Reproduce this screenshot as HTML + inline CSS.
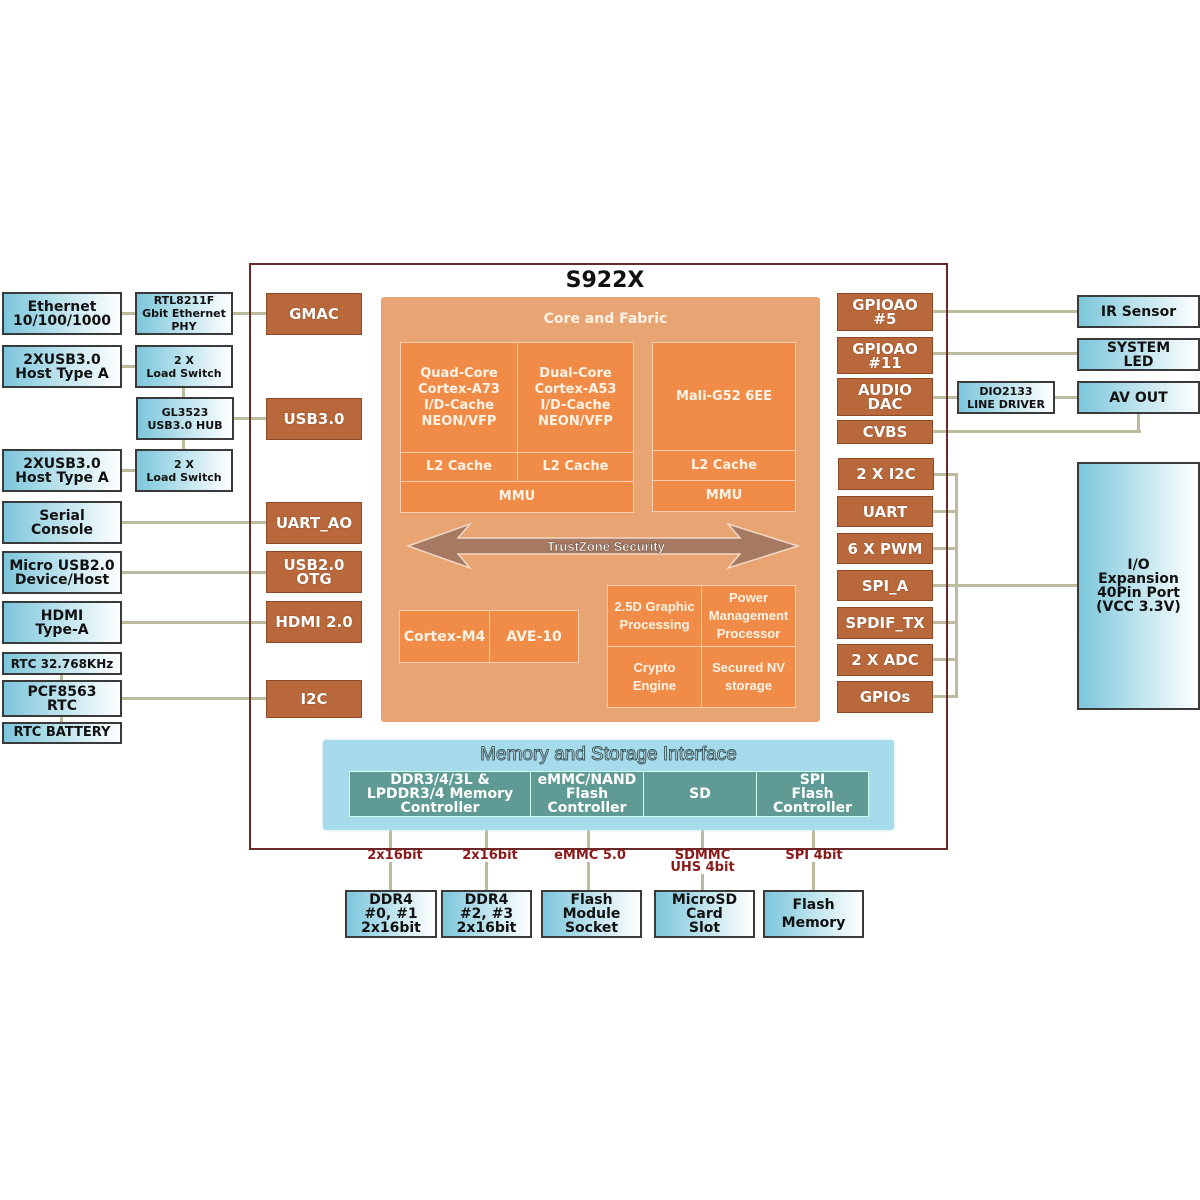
<!DOCTYPE html>
<html><head><meta charset="utf-8"><style>
body{margin:0;width:1200px;height:1200px;background:#fff;position:relative;overflow:hidden;font-family:"DejaVu Sans","Liberation Sans",sans-serif;font-weight:bold}
div{position:absolute;box-sizing:border-box}
.b{background:linear-gradient(90deg,#7cc6db 0%,#c4e6ef 55%,#fff 100%);border:2px solid #3a3a3a;color:#111;display:flex;align-items:center;justify-content:center;text-align:center;font-size:14px;line-height:14px}
.o{background:#b8683a;border:1px solid #8c4a26;color:#fff;display:flex;align-items:center;justify-content:center;text-align:center;font-size:15px;line-height:14px;text-shadow:0 0 1px #5a2a10}
.i{background:#f08c48;border:1.5px solid #f7cfb0;color:#fff3e6;display:flex;align-items:center;justify-content:center;text-align:center;font-size:13px;line-height:16px}
.h{height:3px;background:#bdbb9f}
.v{width:3px;background:#bdbb9f}
.t{background:#5f9a95;border:1px solid #cfe;color:#fff;display:flex;align-items:center;justify-content:center;text-align:center;font-size:14px;line-height:14px}
.l{color:#8b1a1a;font-size:13px;text-align:center;line-height:12px;background:#fff}
</style></head><body>
<!-- connectors left -->
<div class="h" style="left:122px;top:312px;width:144px"></div>
<div class="h" style="left:122px;top:365px;width:14px"></div>
<div class="h" style="left:122px;top:469px;width:14px"></div>
<div class="h" style="left:232px;top:417px;width:34px"></div>
<div class="v" style="left:182px;top:386px;height:64px"></div>
<div class="h" style="left:122px;top:521px;width:144px"></div>
<div class="h" style="left:121px;top:571px;width:145px"></div>
<div class="h" style="left:121px;top:621px;width:145px"></div>
<div class="h" style="left:121px;top:697px;width:145px"></div>
<div class="v" style="left:60px;top:672px;height:52px"></div>
<!-- connectors right -->
<div class="h" style="left:933px;top:310px;width:144px"></div>
<div class="h" style="left:933px;top:352px;width:144px"></div>
<div class="h" style="left:933px;top:396px;width:144px"></div>
<div class="h" style="left:933px;top:430px;width:208px"></div>
<div class="v" style="left:1137px;top:412px;height:21px"></div>
<div class="v" style="left:955px;top:473px;height:225px"></div>
<div class="h" style="left:933px;top:473px;width:25px"></div>
<div class="h" style="left:933px;top:510px;width:25px"></div>
<div class="h" style="left:933px;top:547px;width:25px"></div>
<div class="h" style="left:933px;top:584px;width:144px"></div>
<div class="h" style="left:933px;top:621px;width:25px"></div>
<div class="h" style="left:933px;top:658px;width:25px"></div>
<div class="h" style="left:933px;top:695px;width:25px"></div>
<!-- bottom connectors -->
<div class="v" style="left:389px;top:816px;height:75px"></div>
<div class="v" style="left:485px;top:816px;height:75px"></div>
<div class="v" style="left:587px;top:816px;height:75px"></div>
<div class="v" style="left:701px;top:816px;height:75px"></div>
<div class="v" style="left:812px;top:816px;height:75px"></div>

<!-- chip -->
<div style="left:249px;top:263px;width:699px;height:587px;border:2px solid #6b2a2a"></div>
<div style="left:505px;top:268px;width:200px;text-align:center;font-size:22px;color:#111">S922X</div>

<!-- left blue -->
<div class="b" style="left:2px;top:292px;width:120px;height:43px">Ethernet<br>10/100/1000</div>
<div class="b" style="left:135px;top:292px;width:98px;height:43px;font-size:11px;line-height:13px">RTL8211F<br>Gbit Ethernet<br>PHY</div>
<div class="b" style="left:2px;top:345px;width:120px;height:43px">2XUSB3.0<br>Host Type A</div>
<div class="b" style="left:135px;top:345px;width:98px;height:43px;font-size:11px;line-height:13px">2 X<br>Load Switch</div>
<div class="b" style="left:136px;top:397px;width:98px;height:43px;font-size:11px;line-height:13px">GL3523<br>USB3.0 HUB</div>
<div class="b" style="left:2px;top:449px;width:120px;height:43px">2XUSB3.0<br>Host Type A</div>
<div class="b" style="left:135px;top:449px;width:98px;height:43px;font-size:11px;line-height:13px">2 X<br>Load Switch</div>
<div class="b" style="left:2px;top:501px;width:120px;height:43px">Serial<br>Console</div>
<div class="b" style="left:2px;top:551px;width:120px;height:43px">Micro USB2.0<br>Device/Host</div>
<div class="b" style="left:2px;top:601px;width:120px;height:43px">HDMI<br>Type-A</div>
<div class="b" style="left:2px;top:652px;width:120px;height:23px;font-size:12px">RTC 32.768KHz</div>
<div class="b" style="left:2px;top:680px;width:120px;height:37px">PCF8563<br>RTC</div>
<div class="b" style="left:2px;top:722px;width:120px;height:22px;font-size:13px">RTC BATTERY</div>

<!-- left orange -->
<div class="o" style="left:266px;top:293px;width:96px;height:42px">GMAC</div>
<div class="o" style="left:266px;top:398px;width:96px;height:42px">USB3.0</div>
<div class="o" style="left:266px;top:502px;width:96px;height:42px">UART_AO</div>
<div class="o" style="left:266px;top:551px;width:96px;height:42px">USB2.0<br>OTG</div>
<div class="o" style="left:266px;top:601px;width:96px;height:42px">HDMI 2.0</div>
<div class="o" style="left:266px;top:680px;width:96px;height:38px">I2C</div>

<!-- core -->
<div style="left:381px;top:297px;width:439px;height:425px;background:#e9a474;border-radius:3px"></div>
<div style="left:381px;top:311px;width:449px;text-align:center;color:#fff3e6;font-size:14px">Core and Fabric</div>
<div class="i" style="left:400px;top:342px;width:118px;height:111px">Quad-Core<br>Cortex-A73<br>I/D-Cache<br>NEON/VFP</div>
<div class="i" style="left:517px;top:342px;width:117px;height:111px">Dual-Core<br>Cortex-A53<br>I/D-Cache<br>NEON/VFP</div>
<div class="i" style="left:400px;top:452px;width:118px;height:30px">L2 Cache</div>
<div class="i" style="left:517px;top:452px;width:117px;height:30px">L2 Cache</div>
<div class="i" style="left:400px;top:481px;width:234px;height:32px">MMU</div>
<div class="i" style="left:652px;top:342px;width:144px;height:109px">Mali-G52 6EE</div>
<div class="i" style="left:652px;top:450px;width:144px;height:31px">L2 Cache</div>
<div class="i" style="left:652px;top:480px;width:144px;height:32px">MMU</div>
<svg style="position:absolute;left:400px;top:520px" width="410" height="60">
<polygon points="8,26 70,4 58,18 340,18 328,4 398,26 328,48 340,34 58,34 70,48" fill="#a67a62" stroke="#f3d7c4" stroke-width="1.5"/>
<text x="206" y="31" text-anchor="middle" font-family="Liberation Sans,sans-serif" font-weight="bold" font-size="13" fill="#fff" stroke="#5a3a2a" stroke-width="0.4">TrustZone Security</text>
</svg>
<div class="i" style="left:399px;top:610px;width:91px;height:53px;font-size:14px">Cortex-M4</div>
<div class="i" style="left:489px;top:610px;width:90px;height:53px;font-size:14px">AVE-10</div>
<div class="i" style="left:607px;top:585px;width:95px;height:62px;font-family:'Liberation Sans',sans-serif;font-size:13px;line-height:18px">2.5D Graphic<br>Processing</div>
<div class="i" style="left:701px;top:585px;width:95px;height:62px;font-family:'Liberation Sans',sans-serif;font-size:13px;line-height:18px">Power<br>Management<br>Processor</div>
<div class="i" style="left:607px;top:646px;width:95px;height:62px;font-family:'Liberation Sans',sans-serif;font-size:13px;line-height:18px">Crypto<br>Engine</div>
<div class="i" style="left:701px;top:646px;width:95px;height:62px;font-family:'Liberation Sans',sans-serif;font-size:13px;line-height:18px">Secured NV<br>storage</div>

<!-- right orange -->
<div class="o" style="left:837px;top:293px;width:96px;height:38px">GPIOAO<br>#5</div>
<div class="o" style="left:837px;top:337px;width:96px;height:37px">GPIOAO<br>#11</div>
<div class="o" style="left:837px;top:378px;width:96px;height:38px">AUDIO<br>DAC</div>
<div class="o" style="left:837px;top:420px;width:96px;height:24px">CVBS</div>
<div class="o" style="left:838px;top:458px;width:96px;height:32px">2 X I2C</div>
<div class="o" style="left:837px;top:496px;width:96px;height:31px">UART</div>
<div class="o" style="left:837px;top:533px;width:96px;height:31px">6 X PWM</div>
<div class="o" style="left:837px;top:570px;width:96px;height:31px">SPI_A</div>
<div class="o" style="left:837px;top:607px;width:96px;height:32px">SPDIF_TX</div>
<div class="o" style="left:837px;top:644px;width:96px;height:32px">2 X ADC</div>
<div class="o" style="left:837px;top:681px;width:96px;height:32px">GPIOs</div>

<!-- right blue -->
<div class="b" style="left:1077px;top:295px;width:123px;height:33px">IR Sensor</div>
<div class="b" style="left:1077px;top:338px;width:123px;height:33px">SYSTEM<br>LED</div>
<div class="b" style="left:957px;top:381px;width:98px;height:33px;font-size:11px;line-height:13px">DIO2133<br>LINE DRIVER</div>
<div class="b" style="left:1077px;top:381px;width:123px;height:33px">AV OUT</div>
<div class="b" style="left:1077px;top:462px;width:123px;height:248px;font-size:14px">I/O<br>Expansion<br>40Pin Port<br>(VCC 3.3V)</div>

<!-- memory -->
<div style="left:323px;top:740px;width:571px;height:90px;background:#a6dbeb;border-radius:3px;box-shadow:0 0 3px #bfe6f1"></div>
<div style="left:323px;top:744px;width:571px;text-align:center;font-family:'Liberation Sans',sans-serif;font-weight:normal;font-size:19px;color:#e6f4f8;-webkit-text-stroke:1px #3a5a60">Memory and Storage Interface</div>
<div class="t" style="left:349px;top:771px;width:182px;height:46px">DDR3/4/3L &amp;<br>LPDDR3/4 Memory<br>Controller</div>
<div class="t" style="left:530px;top:771px;width:114px;height:46px">eMMC/NAND<br>Flash<br>Controller</div>
<div class="t" style="left:643px;top:771px;width:114px;height:46px">SD</div>
<div class="t" style="left:756px;top:771px;width:113px;height:46px">SPI<br>Flash<br>Controller</div>

<div class="l" style="left:360px;top:850px;width:70px">2x16bit</div>
<div class="l" style="left:455px;top:850px;width:70px">2x16bit</div>
<div class="l" style="left:545px;top:850px;width:90px">eMMC 5.0</div>
<div class="l" style="left:660px;top:850px;width:85px">SDMMC<br>UHS 4bit</div>
<div class="l" style="left:775px;top:850px;width:78px">SPI 4bit</div>

<div class="b" style="left:345px;top:890px;width:92px;height:48px">DDR4<br>#0, #1<br>2x16bit</div>
<div class="b" style="left:441px;top:890px;width:91px;height:48px">DDR4<br>#2, #3<br>2x16bit</div>
<div class="b" style="left:541px;top:890px;width:101px;height:48px">Flash<br>Module<br>Socket</div>
<div class="b" style="left:654px;top:890px;width:101px;height:48px">MicroSD<br>Card<br>Slot</div>
<div class="b" style="left:763px;top:890px;width:101px;height:48px;line-height:18px">Flash<br>Memory</div>
</body></html>
